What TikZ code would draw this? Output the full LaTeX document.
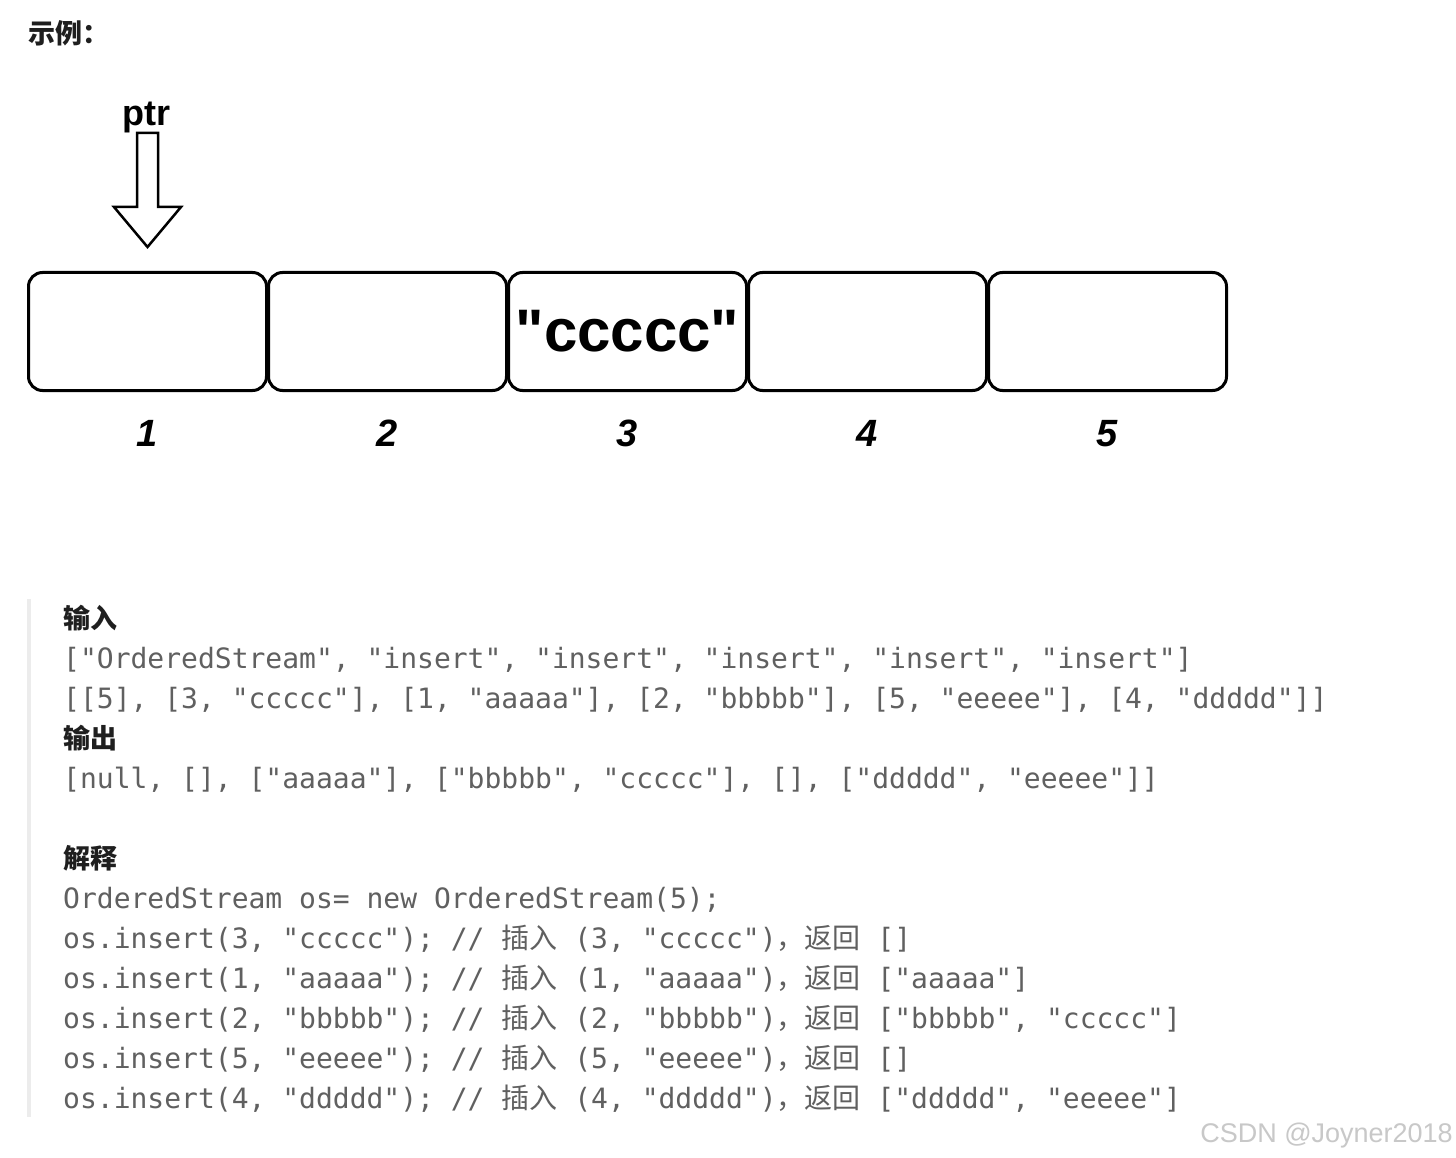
\documentclass[tikz,border=0pt]{standalone}
\usepackage{fontspec}
\setmainfont{Liberation Sans}[Ligatures=TeXOff]
\setmonofont{DejaVu Sans Mono}
\newfontfamily\cjk{Noto Sans CJK SC}
\usetikzlibrary{calc}

\definecolor{codegray}{RGB}{96,96,96}
\definecolor{barbg}{RGB}{236,236,236}
\definecolor{wmark}{RGB}{200,200,200}

\begin{document}
\begin{tikzpicture}[
  x=1pt, y=-1pt,
  cell/.style={draw, line width=3pt, rounded corners=14pt, minimum width=238pt, minimum height=118pt, inner sep=0pt},
  idx/.style={anchor=base, inner sep=0pt, font=\fontsize{38}{44}\selectfont\bfseries\itshape},
  val/.style={inner sep=0pt, font=\fontsize{60}{70}\selectfont\bfseries},
  hollow/.style={draw, line width=2.5pt, fill=white, line join=miter},
  hd/.style={anchor=base west, inner sep=0pt, text=black!88, font=\cjk\bfseries\fontsize{27}{32}\selectfont},
  code/.style={anchor=base west, inner sep=0pt, text=codegray, font=\ttfamily\fontsize{28}{33}\selectfont},
]
\useasboundingbox (0,0) rectangle (1456,1158);
\fill[white] (0,0) rectangle (1456,1158);

% ---------------- title ----------------
\node[hd, font=\cjk\bfseries\fontsize{27}{30}\selectfont] (title) at (28,44) {示例：};

% ---------------- stream cells ----------------
\def\bx{147.5}   % centre of first cell
\def\by{331.5}
\def\bpitch{240} % cell pitch

\foreach \i in {1,...,5} {
  \node[cell] (c\i) at ({\bx+(\i-1)*\bpitch},\by) {};
  \node[idx] (n\i) at ($(c\i.south)+(0,54)$) {\i};
}
\node[val] (v3) at ($(c3)+(0,0)$) {"ccccc"};

% pointer: label + hollow arrow down onto cell 1
\coordinate (tip) at ($(c1.north)+(0,-24)$);
\node[anchor=base, inner sep=0pt, font=\fontsize{36}{40}\selectfont\bfseries] (ptr) at ($(tip)+(-1,-121)$) {ptr};
\draw[hollow] (tip) -- ++(-33.5,-40) -- ++(23,0) -- ++(0,-74) -- ++(21,0)
  -- ++(0,74) -- ++(23,0) -- cycle;

% ---------------- example block ----------------
\def\cx{63}
\def\ly{628}
\def\lp{40}
\fill[barbg] (27,599) rectangle (31,1117);

\node[hd] (hin) at (\cx,\ly) {输入};
\node[code] (l1) at (\cx,{\ly+1*\lp}) {["OrderedStream", "insert", "insert", "insert", "insert", "insert"]};
\node[code] (l2) at (\cx,{\ly+2*\lp}) {[[5], [3, "ccccc"], [1, "aaaaa"], [2, "bbbbb"], [5, "eeeee"], [4, "ddddd"]]};
\node[hd] (hout) at (\cx,{\ly+3*\lp}) {输出};
\node[code] (l3) at (\cx,{\ly+4*\lp}) {[null, [], ["aaaaa"], ["bbbbb", "ccccc"], [], ["ddddd", "eeeee"]]};

\node[hd] (hexp) at (\cx,{\ly+6*\lp}) {解释};
\node[code] (l4) at (\cx,{\ly+7*\lp}) {OrderedStream os= new OrderedStream(5);};
\node[code] (l5) at (\cx,{\ly+8*\lp}) {os.insert(3, "ccccc"); // {\cjk 插入} (3, "ccccc"){\cjk ，}{\cjk 返回} []};
\node[code] (l6) at (\cx,{\ly+9*\lp}) {os.insert(1, "aaaaa"); // {\cjk 插入} (1, "aaaaa"){\cjk ，}{\cjk 返回} ["aaaaa"]};
\node[code] (l7) at (\cx,{\ly+10*\lp}) {os.insert(2, "bbbbb"); // {\cjk 插入} (2, "bbbbb"){\cjk ，}{\cjk 返回} ["bbbbb", "ccccc"]};
\node[code] (l8) at (\cx,{\ly+11*\lp}) {os.insert(5, "eeeee"); // {\cjk 插入} (5, "eeeee"){\cjk ，}{\cjk 返回} []};
\node[code] (l9) at (\cx,{\ly+12*\lp}) {os.insert(4, "ddddd"); // {\cjk 插入} (4, "ddddd"){\cjk ，}{\cjk 返回} ["ddddd", "eeeee"]};

% watermark
\node[anchor=base east, inner sep=0pt, text=wmark, font=\fontsize{27}{32}\selectfont] (wm) at (1453,1142) {CSDN @Joyner2018};

\end{tikzpicture}
\end{document}
